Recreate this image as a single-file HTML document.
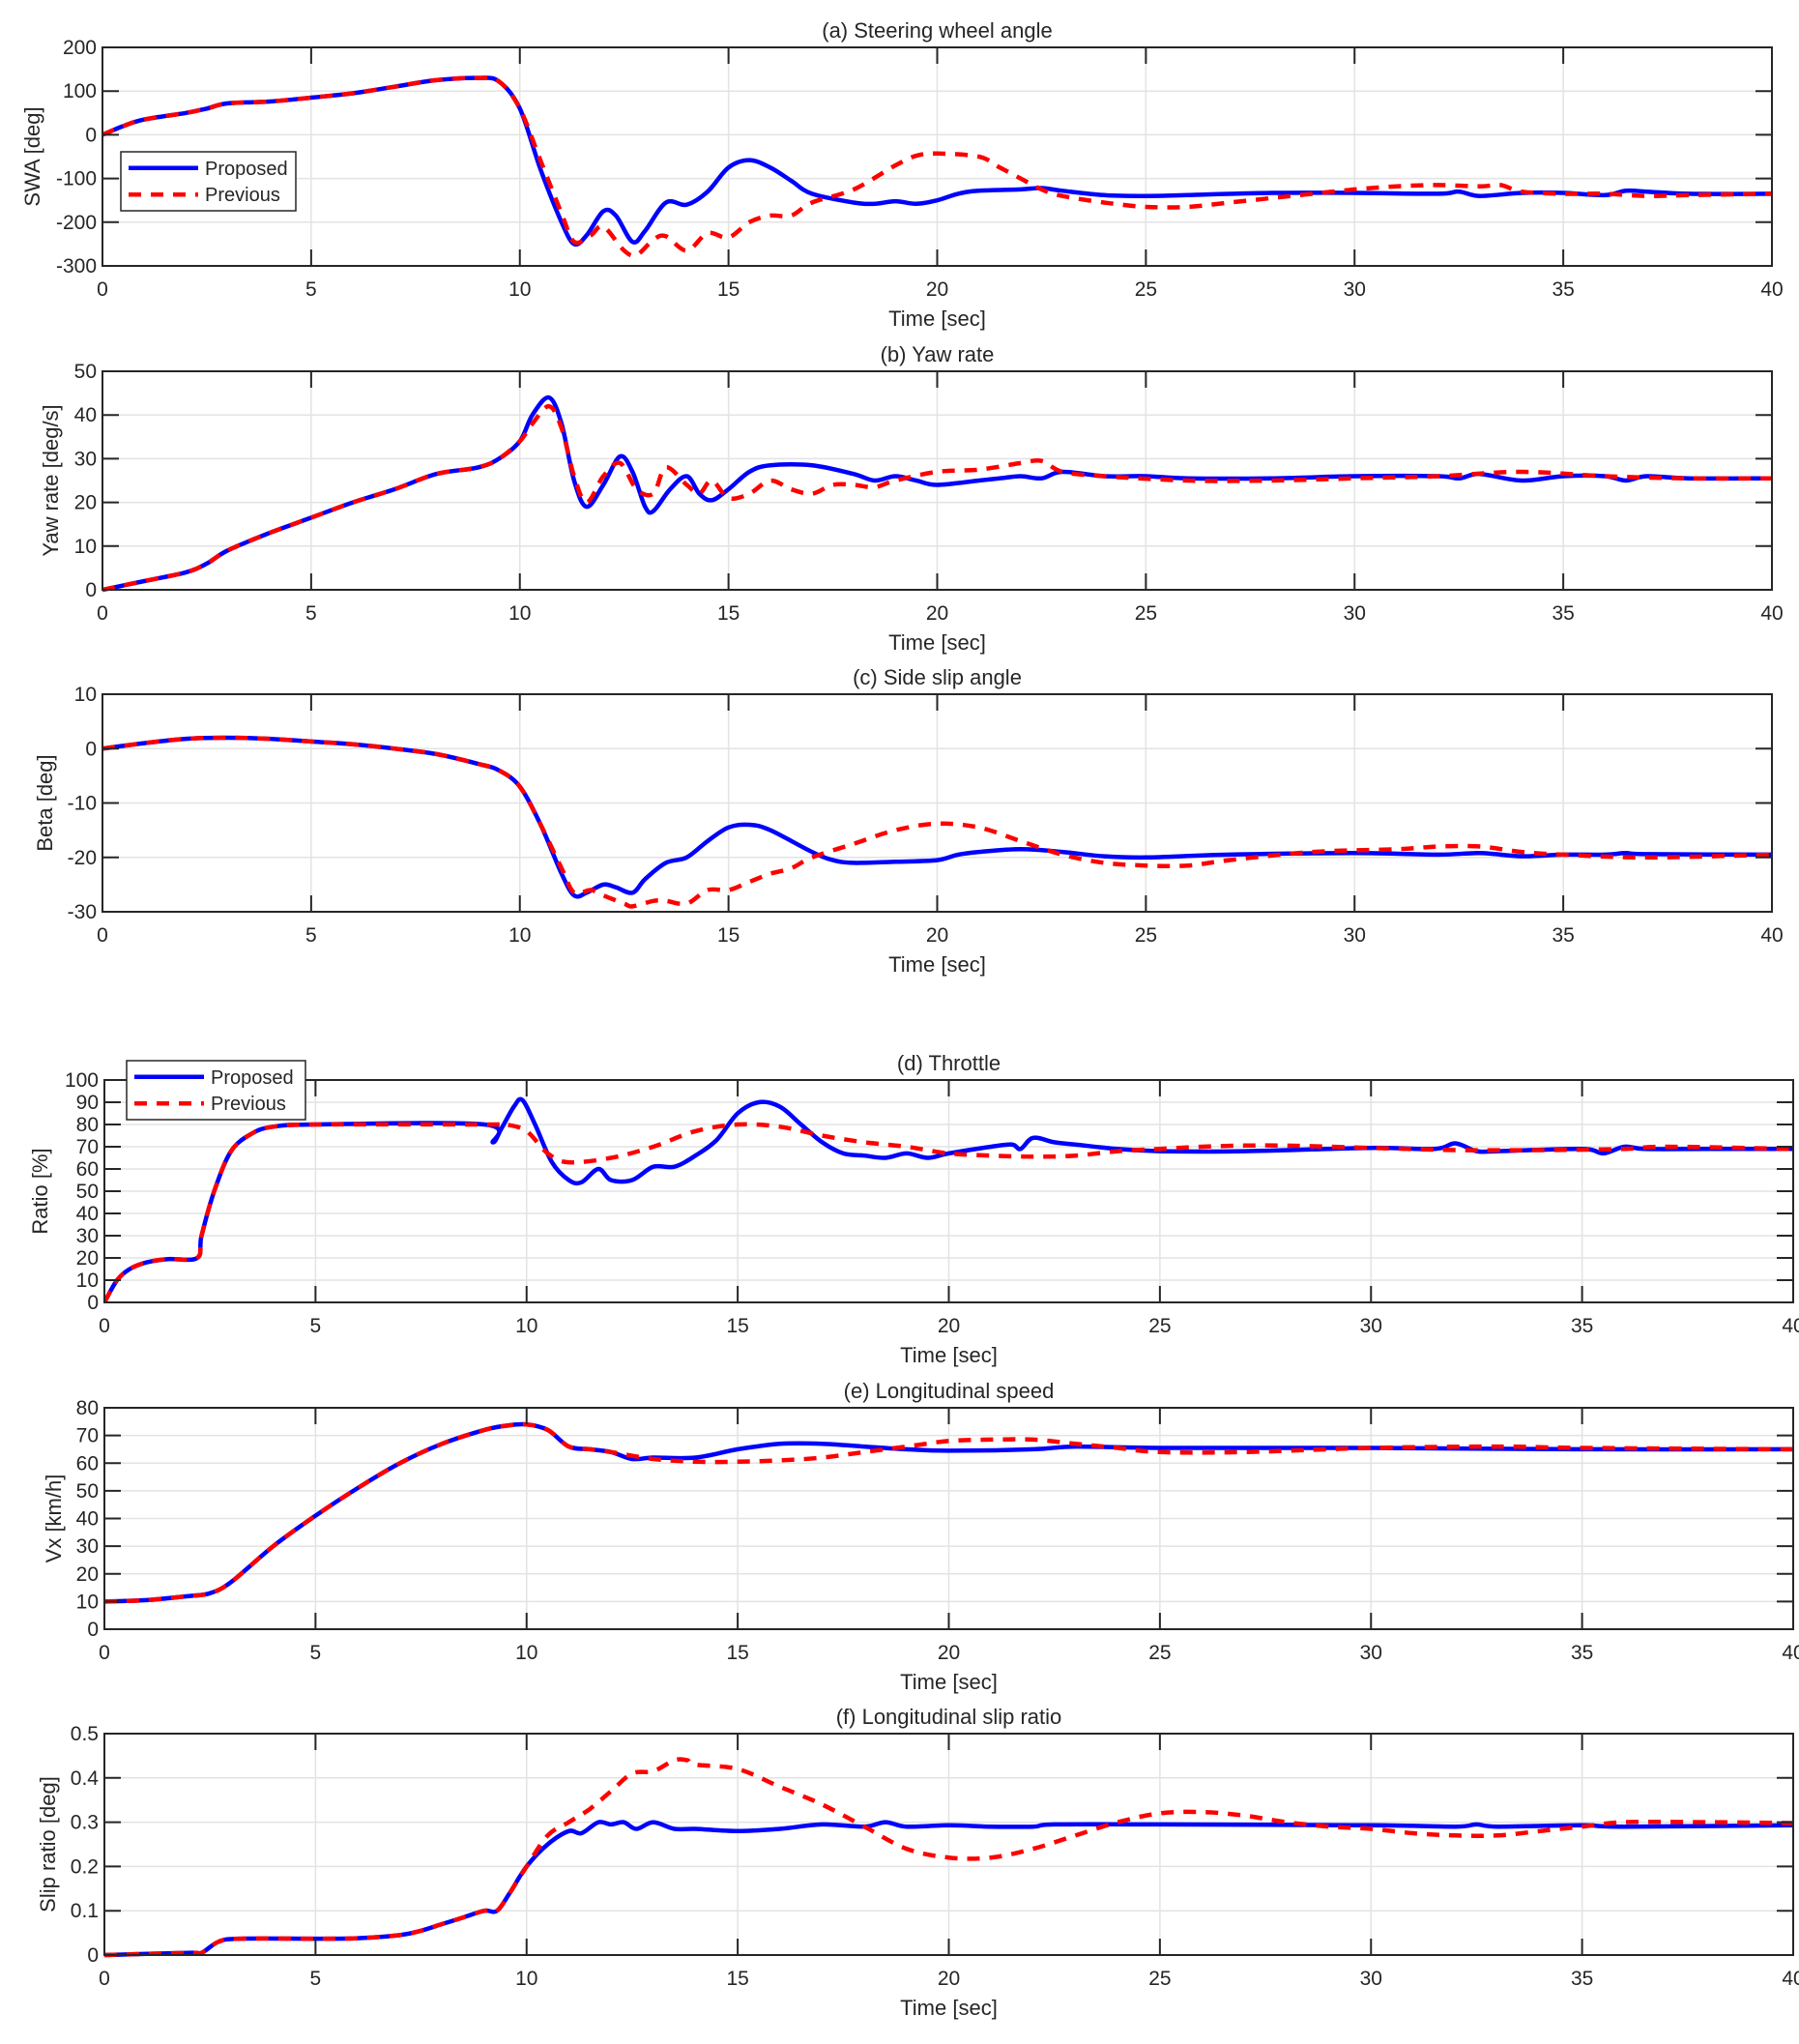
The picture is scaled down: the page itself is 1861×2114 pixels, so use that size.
<!DOCTYPE html>
<html><head><meta charset="utf-8"><style>
html,body{margin:0;padding:0;background:#fff}
svg{display:block}
text{font-family:"Liberation Sans",Arial,sans-serif;fill:#262626}
</style></head><body>
<svg id="c" width="1861" height="2114" viewBox="0 0 1861 2114" xmlns="http://www.w3.org/2000/svg"></svg>
<script>
// ---- data ----
const aT_prop=[0,0.5,1,2,2.5,3,4,5,6,7,8,9,9.5,10,10.5,11,11.3,11.6,12,12.3,12.7,13,13.5,14,14.5,15,15.5,16,16.5,17,18,18.5,19,19.5,20,20.5,21,22,22.5,23,24,25,26,28,30,32,32.5,33,34,35,36,36.5,37,38,40];
const aV_prop=[0,20,35,50,60,72,76,85,95,110,125,130,122,60,-80,-200,-250,-230,-175,-185,-245,-220,-155,-160,-130,-75,-58,-75,-105,-135,-155,-158,-152,-158,-150,-135,-128,-125,-122,-128,-138,-140,-138,-133,-133,-135,-130,-140,-133,-133,-138,-128,-130,-135,-135];
const aT_prev=[0,0.5,1,2,2.5,3,4,5,6,7,8,9,9.5,10,10.5,11,11.3,11.7,12,12.5,12.8,13.2,13.5,14,14.5,15,15.5,16,16.5,17,18,19,19.5,20,21,21.5,22,22.5,23,24,25,26,27,28,29,30,31,32,33,33.5,34,35,36,37,38,40];
const aV_prev=[0,20,35,50,60,72,76,85,95,110,125,130,122,60,-60,-180,-245,-230,-210,-265,-275,-240,-232,-265,-225,-235,-200,-185,-185,-155,-125,-70,-48,-43,-50,-75,-100,-125,-140,-155,-165,-165,-155,-145,-135,-125,-118,-115,-118,-115,-130,-135,-135,-140,-138,-135];

const bT_prop=[0,1,2,2.5,3,4,5,6,7,8,9,9.5,10,10.3,10.7,11,11.3,11.6,12,12.4,12.7,13,13.2,13.6,14,14.3,14.6,15,15.5,16,17,18,18.5,19,19.5,20,21,21.5,22,22.5,23,24,25,26,28,30,32,32.5,33,34,35,36,36.5,37,38,40];
const bV_prop=[0,2,4,6,9,13,16.5,20,23,26.5,28,30,34,40,44,38,25,19,24,30.5,27,19,18,23,26,22,20.5,23,27,28.5,28.5,26.5,25,26,25,24,25,25.5,26,25.5,27,26,26,25.5,25.5,26,26,25.5,26.5,25,26,26,25,26,25.5,25.5];
const bT_prev=[0,1,2,2.5,3,4,5,6,7,8,9,9.5,10,10.3,10.7,11,11.3,11.6,12,12.4,12.8,13.2,13.5,14,14.3,14.6,15,15.5,16,16.5,17,17.5,18,18.5,19,20,21,22,22.5,23,24,26,28,30,32,34,36,38,40];
const bV_prev=[0,2,4,6,9,13,16.5,20,23,26.5,28,30,34,38,42,37,26,20,26,29,23,22,28,24,22,25,21,22,25,23,22,24,24,23.5,25,27,27.5,29,29.5,27,26,25,25,25.5,26,27,26,25.5,25.5];

const cT_prop=[0,1,2,3,4,5,6,7,8,9,9.5,10,10.5,11,11.3,11.6,12,12.3,12.7,13,13.5,14,14.5,15,15.5,16,17,17.5,18,19,20,20.5,21,22,23,24,25,27,30,32,33,34,35,36,36.5,37,40];
const cV_prop=[0,1,1.8,2,1.8,1.3,0.8,0,-1,-2.8,-4,-7,-14,-23,-27,-26.5,-25,-25.5,-26.5,-24,-21,-20,-17,-14.5,-14,-15,-19,-20.5,-21,-20.8,-20.5,-19.5,-19,-18.5,-19,-19.8,-20,-19.5,-19.2,-19.5,-19.2,-19.8,-19.5,-19.5,-19.2,-19.4,-19.5];
const cT_prev=[0,1,2,3,4,5,6,7,8,9,9.5,10,10.5,11,11.3,11.7,12,12.5,12.7,13.2,13.5,14,14.5,15,15.5,16,16.5,17,18,19,20,21,22,23,24,25,26,27,29,31,32,33,34,35,37,40];
const cV_prev=[0,1,1.8,2,1.8,1.3,0.8,0,-1,-2.8,-4,-7,-14,-22,-26.5,-26,-27,-28.5,-29,-28,-28,-28.5,-26,-26,-24.5,-23,-22,-20,-17.5,-15,-13.8,-14.5,-17,-19.5,-21,-21.5,-21.5,-20.5,-19,-18.5,-18,-18,-19,-19.5,-20,-19.5];

const dT_prop=[0,0.3,0.6,1,1.5,2.2,2.3,2.6,3,3.5,4,5,9,9.2,9.4,9.7,9.9,10.2,10.6,11,11.3,11.7,12,12.5,13,13.5,14,14.5,15,15.5,16,16.5,17,17.5,18,18.5,19,19.5,20,21,21.5,21.7,22,22.5,23,24,25,27,30,31.5,32,32.5,33,35,35.5,36,36.5,38,40];
const dV_prop=[0,10,15,18,19.5,20,30,50,68,76,79,80,80,72,78,88,91,80,63,55,54,60,55,55,61,61,66,73,85,90,88,80,72,67,66,65,67,65,67,70,71,69,74,72,71,69,68,68,69.5,69,71.5,68,68,69,67,70,69,69,69];
const dT_prev=[0,0.3,0.6,1,1.5,2.2,2.3,2.6,3,3.5,4,5,9,9.5,10,10.5,11,12,13,14,15,16,17,18,19,20,21,22,23,24,25,26,27,28,30,32,34,36,37,40];
const dV_prev=[0,10,15,18,19.5,20,30,50,68,76,79,80,80,80,77,67,63,65,70,77,80,79,75,72,70,67,66,65.5,66,68,69,70,70.5,70.5,69.5,68.5,68.5,69,70,69];

const eT_prop=[0,1,2,2.5,3,4,5,6,7,8,9,9.5,10,10.5,11,11.5,12,12.5,13,14,15,16,17,18,19,20,22,23,25,30,35,40];
const eV_prop=[10,10.5,12,13,17,30,41,51,60,67,72,73.5,74,72,66,65,64,61.5,62,62,65,67,67,66,65,64.5,65,66,65.5,65.5,65,65];
const eT_prev=[0,1,2,2.5,3,4,5,6,7,8,9,9.5,10,10.5,11,11.5,12,13,14,15,16,17,18,19,20,21,22,23,24,25,27,30,33,35,40];
const eV_prev=[10,10.5,12,13,17,30,41,51,60,67,72,73.5,74,72,66,65,64,61.5,60.5,60.5,61,62,64,66,68,68.5,68.5,67,65.5,64,64,65.5,66,65.5,65];

const fT_prop=[0,2,2.3,2.7,3.2,5,6,7,7.5,8,8.5,9,9.3,9.6,10,10.5,11,11.3,11.7,12,12.3,12.6,13,13.5,14,15,16,17,18,18.5,19,20,21,22,22.5,25,30,32,32.5,33,35,36,40];
const fV_prop=[0,0.005,0.005,0.03,0.037,0.037,0.038,0.045,0.055,0.07,0.085,0.1,0.1,0.14,0.2,0.25,0.28,0.275,0.3,0.295,0.3,0.285,0.3,0.285,0.285,0.28,0.285,0.295,0.29,0.3,0.29,0.293,0.29,0.29,0.295,0.295,0.293,0.29,0.295,0.29,0.293,0.29,0.293];
const fT_prev=[0,2,2.3,2.7,3.2,5,6,7,7.5,8,8.5,9,9.3,9.6,10,10.5,11,11.5,12,12.5,13,13.5,13.8,14,15,16,17,18,19,20,21,22,23,24,25,26,27,28,29,30,31,32,33,34,35,36,38,40];
const fV_prev=[0,0.005,0.005,0.03,0.037,0.037,0.038,0.045,0.055,0.07,0.085,0.1,0.1,0.14,0.2,0.27,0.3,0.33,0.37,0.41,0.415,0.44,0.44,0.43,0.42,0.38,0.34,0.29,0.24,0.22,0.22,0.24,0.27,0.3,0.32,0.323,0.315,0.3,0.29,0.285,0.275,0.27,0.27,0.28,0.29,0.3,0.3,0.298];

const xTicks=[0,5,10,15,20,25,30,35,40];
const yTicksA=[-300,-200,-100,0,100,200];
const yTicksB=[0,10,20,30,40,50];
const yTicksC=[-30,-20,-10,0,10];
const yTicksD=[0,10,20,30,40,50,60,70,80,90,100];
const yTicksE=[0,10,20,30,40,50,60,70,80];
const yTicksF=[0,0.1,0.2,0.3,0.4,0.5];

const panels=[
 {id:'a',title:'(a) Steering wheel angle',yl:'SWA [deg]',L:106,R:1833,T:49,B:275,ticks:yTicksA,ylx:35,tp:aT_prop,vp:aV_prop,tq:aT_prev,vq:aV_prev,leg:[125,157,306,218]},
 {id:'b',title:'(b) Yaw rate',yl:'Yaw rate [deg/s]',L:106,R:1833,T:384,B:610,ticks:yTicksB,ylx:54,tp:bT_prop,vp:bV_prop,tq:bT_prev,vq:bV_prev},
 {id:'c',title:'(c) Side slip angle',yl:'Beta [deg]',L:106,R:1833,T:718,B:943,ticks:yTicksC,ylx:48,tp:cT_prop,vp:cV_prop,tq:cT_prev,vq:cV_prev},
 {id:'d',title:'(d) Throttle',yl:'Ratio [%]',L:108,R:1855,T:1117,B:1347,ticks:yTicksD,ylx:43,tp:dT_prop,vp:dV_prop,tq:dT_prev,vq:dV_prev,leg:[131,1097,316,1158]},
 {id:'e',title:'(e) Longitudinal speed',yl:'Vx [km/h]',L:108,R:1855,T:1456,B:1685,ticks:yTicksE,ylx:57,tp:eT_prop,vp:eV_prop,tq:eT_prev,vq:eV_prev},
 {id:'f',title:'(f) Longitudinal slip ratio',yl:'Slip ratio [deg]',L:108,R:1855,T:1793,B:2022,ticks:yTicksF,ylx:51,tp:fT_prop,vp:fV_prop,tq:fT_prev,vq:fV_prev}
];
const NS='http://www.w3.org/2000/svg';
const svg=document.getElementById('c');
function mk(tag,attrs,parent){const e=document.createElementNS(NS,tag);for(const k in attrs)e.setAttribute(k,attrs[k]);(parent||svg).appendChild(e);return e;}
function smooth(pts){let d='M'+pts[0][0].toFixed(1)+','+pts[0][1].toFixed(1);
 for(let i=0;i<pts.length-1;i++){const p0=pts[Math.max(0,i-1)],p1=pts[i],p2=pts[i+1],p3=pts[Math.min(pts.length-1,i+2)];
  const c1=[p1[0]+(p2[0]-p0[0])/6,p1[1]+(p2[1]-p0[1])/6],c2=[p2[0]-(p3[0]-p1[0])/6,p2[1]-(p3[1]-p1[1])/6];
  d+='C'+c1[0].toFixed(1)+','+c1[1].toFixed(1)+' '+c2[0].toFixed(1)+','+c2[1].toFixed(1)+' '+p2[0].toFixed(1)+','+p2[1].toFixed(1);}
 return d;}
panels.forEach(p=>{
 const g=mk('g',{});
 
 
 const ymin=p.ticks[0],ymax=p.ticks[p.ticks.length-1];
 const xs=t=>p.L+(t-0)/(40-0)*(p.R-p.L);
 const ys=v=>p.B-(v-ymin)/(ymax-ymin)*(p.B-p.T);
 const grid=mk('g',{stroke:'#e3e3e3','stroke-width':1.5},g);
 
 
 xTicks.forEach(t=>mk('line',{x1:xs(t),x2:xs(t),y1:p.T,y2:p.B},grid));
 p.ticks.forEach(v=>mk('line',{x1:p.L,x2:p.R,y1:ys(v),y2:ys(v)},grid));
 const clipId='clip'+p.id;
 const cp=mk('clipPath',{id:clipId},g);mk('rect',{x:p.L,y:p.T-3,width:p.R-p.L,height:p.B-p.T+6},cp);
 const lp=mk('path',{d:smooth(p.tp.map((t,i)=>[xs(t),ys(p.vp[i])])),fill:'none',stroke:'#0000ff','stroke-width':4.5,'stroke-linejoin':'round','clip-path':'url(#'+clipId+')'},g);
 
 
 const lq=mk('path',{d:smooth(p.tq.map((t,i)=>[xs(t),ys(p.vq[i])])),fill:'none',stroke:'#ff0000','stroke-width':4.5,'stroke-dasharray':'13 10','clip-path':'url(#'+clipId+')'},g);
 
 
 const ax=mk('g',{stroke:'#262626','stroke-width':2,fill:'none'},g);
 
 
 mk('rect',{x:p.L,y:p.T,width:p.R-p.L,height:p.B-p.T},ax);
 xTicks.forEach(t=>{mk('line',{x1:xs(t),x2:xs(t),y1:p.B,y2:p.B-17},ax);mk('line',{x1:xs(t),x2:xs(t),y1:p.T,y2:p.T+17},ax);});
 p.ticks.forEach(v=>{mk('line',{x1:p.L,x2:p.L+17,y1:ys(v),y2:ys(v)},ax);mk('line',{x1:p.R,x2:p.R-17,y1:ys(v),y2:ys(v)},ax);});
 xTicks.forEach(t=>{const e=mk('text',{x:xs(t),y:p.B+31,'text-anchor':'middle','font-size':21},g);e.textContent=t;
  
  });
 p.ticks.forEach(v=>{const e=mk('text',{x:p.L-6,y:ys(v)+7,'text-anchor':'end','font-size':21},g);e.textContent=v;
  
  });
 const xl=mk('text',{x:(p.L+p.R)/2,y:p.B+62,'text-anchor':'middle','font-size':22},g);xl.textContent='Time [sec]';
 
 
 const tt=mk('text',{x:(p.L+p.R)/2,y:p.T-10,'text-anchor':'middle','font-size':22},g);tt.textContent=p.title;
 
 
 const yl=mk('text',{x:p.ylx,y:(p.T+p.B)/2,'text-anchor':'middle','font-size':22,transform:'rotate(-90 '+(p.ylx)+' '+((p.T+p.B)/2)+')','dominant-baseline':'middle'},g);yl.textContent=p.yl;
 
 
 if(p.leg){const [x1,y1,x2,y2]=p.leg;const lg=mk('g',{},g);
  
  
  mk('rect',{x:x1,y:y1,width:x2-x1,height:y2-y1,fill:'#fff',stroke:'#262626','stroke-width':1.5},lg);
  const h=(y2-y1)/2;
  mk('line',{x1:x1+8,x2:x1+80,y1:y1+h*0.55,y2:y1+h*0.55,stroke:'#0000ff','stroke-width':4.5},lg);
  mk('line',{x1:x1+8,x2:x1+80,y1:y1+h*1.45,y2:y1+h*1.45,stroke:'#ff0000','stroke-width':4.5,'stroke-dasharray':'13 10'},lg);
  const t1=mk('text',{x:x1+87,y:y1+h*0.55+7,'font-size':20},lg);t1.textContent='Proposed';
  
  
  const t2=mk('text',{x:x1+87,y:y1+h*1.45+7,'font-size':20},lg);t2.textContent='Previous';
  
  }
});
</script>
</body></html>
